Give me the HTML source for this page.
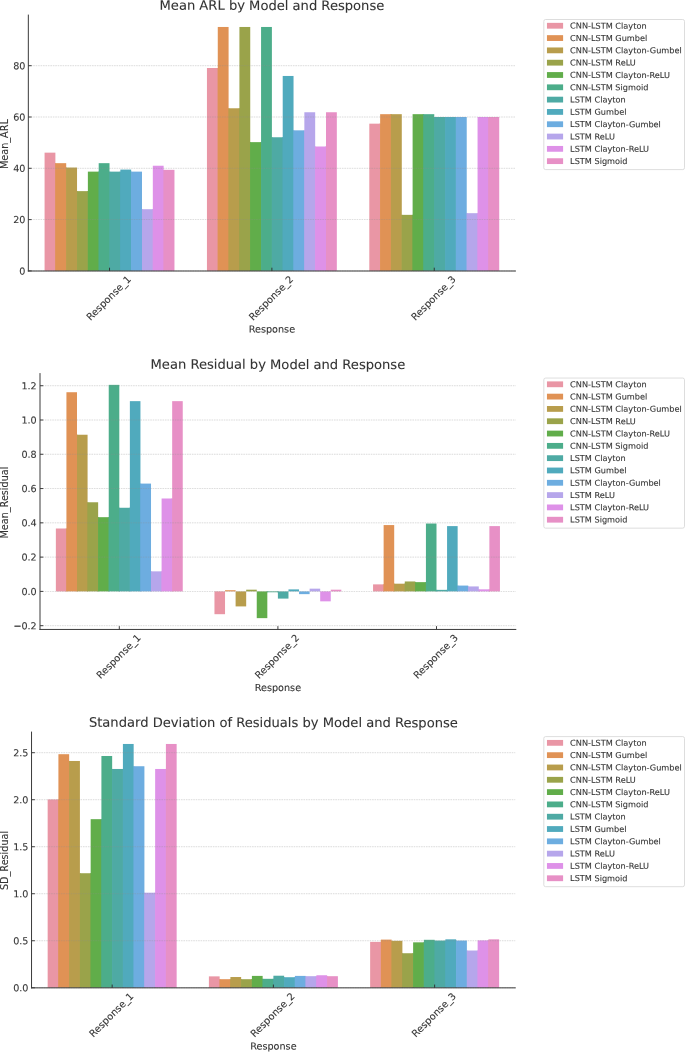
<!DOCTYPE html>
<html lang="en"><head><meta charset="utf-8"><title>Model comparison charts</title>
<style>html,body{margin:0;padding:0;background:#fff}svg{display:block}text{font-family:"DejaVu Sans", "Liberation Sans", sans-serif;fill:#333333;stroke:#333333;stroke-width:0.1px}
.tk{font-size:9.6px}.lb{font-size:9.66px}.tt{font-size:13.1px}.lg{font-size:8.18px}
</style></head><body>
<svg width="685" height="1052" viewBox="0 0 685 1052">
<rect width="685" height="1052" fill="#fff"/>
<g>
<rect x="54.69" y="163.17" width="1.4" height="107.73" fill="#e09255"/>
<rect x="65.52" y="167.53" width="1.4" height="103.37" fill="#b89d4c"/>
<rect x="76.34" y="191.13" width="1.4" height="79.77" fill="#9aa34a"/>
<rect x="87.17" y="191.13" width="1.4" height="79.77" fill="#61ad4a"/>
<rect x="97.99" y="171.63" width="1.4" height="99.27" fill="#4cad8a"/>
<rect x="108.82" y="171.63" width="1.4" height="99.27" fill="#4eaaa4"/>
<rect x="119.64" y="171.63" width="1.4" height="99.27" fill="#50aabd"/>
<rect x="130.47" y="171.63" width="1.4" height="99.27" fill="#6dade0"/>
<rect x="141.29" y="209.21" width="1.4" height="61.69" fill="#b6a6eb"/>
<rect x="152.12" y="209.21" width="1.4" height="61.69" fill="#de91e8"/>
<rect x="162.94" y="169.84" width="1.4" height="101.06" fill="#e790c6"/>
<rect x="44.57" y="152.65" width="10.82" height="118.25" fill="#e996a5"/>
<rect x="55.39" y="163.17" width="10.82" height="107.73" fill="#e09255"/>
<rect x="66.22" y="167.53" width="10.82" height="103.37" fill="#b89d4c"/>
<rect x="77.04" y="191.13" width="10.82" height="79.77" fill="#9aa34a"/>
<rect x="87.87" y="171.63" width="10.82" height="99.27" fill="#61ad4a"/>
<rect x="98.69" y="163.17" width="10.82" height="107.73" fill="#4cad8a"/>
<rect x="109.52" y="171.63" width="10.82" height="99.27" fill="#4eaaa4"/>
<rect x="120.34" y="169.58" width="10.82" height="101.32" fill="#50aabd"/>
<rect x="131.17" y="171.63" width="10.82" height="99.27" fill="#6dade0"/>
<rect x="141.99" y="209.21" width="10.82" height="61.69" fill="#b6a6eb"/>
<rect x="152.82" y="165.73" width="10.82" height="105.16" fill="#de91e8"/>
<rect x="163.64" y="169.84" width="10.82" height="101.06" fill="#e790c6"/>
<rect x="217.07" y="68.01" width="1.4" height="202.89" fill="#e09255"/>
<rect x="227.89" y="108.28" width="1.4" height="162.62" fill="#b89d4c"/>
<rect x="238.72" y="108.28" width="1.4" height="162.62" fill="#9aa34a"/>
<rect x="249.54" y="142.14" width="1.4" height="128.76" fill="#61ad4a"/>
<rect x="260.37" y="142.14" width="1.4" height="128.76" fill="#4cad8a"/>
<rect x="271.19" y="137.26" width="1.4" height="133.64" fill="#4eaaa4"/>
<rect x="282.01" y="137.26" width="1.4" height="133.64" fill="#50aabd"/>
<rect x="292.84" y="130.34" width="1.4" height="140.56" fill="#6dade0"/>
<rect x="303.66" y="130.34" width="1.4" height="140.56" fill="#b6a6eb"/>
<rect x="314.49" y="146.5" width="1.4" height="124.4" fill="#de91e8"/>
<rect x="325.31" y="146.5" width="1.4" height="124.4" fill="#e790c6"/>
<rect x="206.94" y="68.01" width="10.82" height="202.89" fill="#e996a5"/>
<rect x="217.77" y="26.97" width="10.82" height="243.93" fill="#e09255"/>
<rect x="228.59" y="108.28" width="10.82" height="162.62" fill="#b89d4c"/>
<rect x="239.42" y="26.97" width="10.82" height="243.93" fill="#9aa34a"/>
<rect x="250.24" y="142.14" width="10.82" height="128.76" fill="#61ad4a"/>
<rect x="261.07" y="26.97" width="10.82" height="243.93" fill="#4cad8a"/>
<rect x="271.89" y="137.26" width="10.82" height="133.64" fill="#4eaaa4"/>
<rect x="282.71" y="75.96" width="10.82" height="194.94" fill="#50aabd"/>
<rect x="293.54" y="130.34" width="10.82" height="140.56" fill="#6dade0"/>
<rect x="304.36" y="112.25" width="10.82" height="158.65" fill="#b6a6eb"/>
<rect x="315.19" y="146.5" width="10.82" height="124.4" fill="#de91e8"/>
<rect x="326.01" y="112.25" width="10.82" height="158.65" fill="#e790c6"/>
<rect x="379.44" y="123.67" width="1.4" height="147.23" fill="#e09255"/>
<rect x="390.26" y="114.18" width="1.4" height="156.72" fill="#b89d4c"/>
<rect x="401.09" y="214.85" width="1.4" height="56.05" fill="#9aa34a"/>
<rect x="411.91" y="214.85" width="1.4" height="56.05" fill="#61ad4a"/>
<rect x="422.74" y="114.18" width="1.4" height="156.72" fill="#4cad8a"/>
<rect x="433.56" y="117" width="1.4" height="153.9" fill="#4eaaa4"/>
<rect x="444.39" y="117" width="1.4" height="153.9" fill="#50aabd"/>
<rect x="455.21" y="117" width="1.4" height="153.9" fill="#6dade0"/>
<rect x="466.04" y="213.19" width="1.4" height="57.71" fill="#b6a6eb"/>
<rect x="476.86" y="213.19" width="1.4" height="57.71" fill="#de91e8"/>
<rect x="487.69" y="117" width="1.4" height="153.9" fill="#e790c6"/>
<rect x="369.31" y="123.67" width="10.82" height="147.23" fill="#e996a5"/>
<rect x="380.14" y="114.18" width="10.82" height="156.72" fill="#e09255"/>
<rect x="390.96" y="114.18" width="10.82" height="156.72" fill="#b89d4c"/>
<rect x="401.79" y="214.85" width="10.82" height="56.05" fill="#9aa34a"/>
<rect x="412.61" y="114.18" width="10.82" height="156.72" fill="#61ad4a"/>
<rect x="423.44" y="114.18" width="10.82" height="156.72" fill="#4cad8a"/>
<rect x="434.26" y="117" width="10.82" height="153.9" fill="#4eaaa4"/>
<rect x="445.09" y="117" width="10.82" height="153.9" fill="#50aabd"/>
<rect x="455.91" y="117" width="10.82" height="153.9" fill="#6dade0"/>
<rect x="466.74" y="213.19" width="10.82" height="57.71" fill="#b6a6eb"/>
<rect x="477.56" y="117" width="10.82" height="153.9" fill="#de91e8"/>
<rect x="488.39" y="117" width="10.82" height="153.9" fill="#e790c6"/>
<line x1="28.33" y1="270.9" x2="515.45" y2="270.9" stroke="#8c8c8c" stroke-width="0.7" stroke-dasharray="1.6 0.85" opacity="0.44"/>
<line x1="28.33" y1="219.6" x2="515.45" y2="219.6" stroke="#8c8c8c" stroke-width="0.7" stroke-dasharray="1.6 0.85" opacity="0.44"/>
<line x1="28.33" y1="168.3" x2="515.45" y2="168.3" stroke="#8c8c8c" stroke-width="0.7" stroke-dasharray="1.6 0.85" opacity="0.44"/>
<line x1="28.33" y1="117" x2="515.45" y2="117" stroke="#8c8c8c" stroke-width="0.7" stroke-dasharray="1.6 0.85" opacity="0.44"/>
<line x1="28.33" y1="65.7" x2="515.45" y2="65.7" stroke="#8c8c8c" stroke-width="0.7" stroke-dasharray="1.6 0.85" opacity="0.44"/>
<line x1="28.33" y1="270.9" x2="31.63" y2="270.9" stroke="#2a2a2a" stroke-width="0.9"/>
<text class="tk" transform="translate(25.4 274.4) matrix(1 0.001 0 1 0 0)" text-anchor="end">0</text>
<line x1="28.33" y1="219.6" x2="31.63" y2="219.6" stroke="#2a2a2a" stroke-width="0.9"/>
<text class="tk" transform="translate(25.4 223.1) matrix(1 0.001 0 1 0 0)" text-anchor="end">20</text>
<line x1="28.33" y1="168.3" x2="31.63" y2="168.3" stroke="#2a2a2a" stroke-width="0.9"/>
<text class="tk" transform="translate(25.4 171.8) matrix(1 0.001 0 1 0 0)" text-anchor="end">40</text>
<line x1="28.33" y1="117" x2="31.63" y2="117" stroke="#2a2a2a" stroke-width="0.9"/>
<text class="tk" transform="translate(25.4 120.5) matrix(1 0.001 0 1 0 0)" text-anchor="end">60</text>
<line x1="28.33" y1="65.7" x2="31.63" y2="65.7" stroke="#2a2a2a" stroke-width="0.9"/>
<text class="tk" transform="translate(25.4 69.2) matrix(1 0.001 0 1 0 0)" text-anchor="end">80</text>
<line x1="109.52" y1="271" x2="109.52" y2="267.7" stroke="#2a2a2a" stroke-width="0.9"/>
<text class="tk" style="font-size:9.78px" text-anchor="middle" transform="translate(108.92 298.2) rotate(-45)" x="0" y="3.1">Response_1</text>
<line x1="271.89" y1="271" x2="271.89" y2="267.7" stroke="#2a2a2a" stroke-width="0.9"/>
<text class="tk" style="font-size:9.78px" text-anchor="middle" transform="translate(271.29 298.2) rotate(-45)" x="0" y="3.1">Response_2</text>
<line x1="434.26" y1="271" x2="434.26" y2="267.7" stroke="#2a2a2a" stroke-width="0.9"/>
<text class="tk" style="font-size:9.78px" text-anchor="middle" transform="translate(433.66 298.2) rotate(-45)" x="0" y="3.1">Response_3</text>
<line x1="28.33" y1="14.6" x2="28.33" y2="271.5" stroke="#3a3a3a" stroke-width="1"/>
<line x1="27.83" y1="271" x2="515.95" y2="271" stroke="#3a3a3a" stroke-width="1"/>
<text class="tt" transform="translate(271.89 9.9) matrix(1 0.001 0 1 0 0)" text-anchor="middle">Mean ARL by Model and Response</text>
<text class="lb" transform="translate(271.89 332.5) matrix(1 0.001 0 1 0 0)" text-anchor="middle">Response</text>
<text class="lb" text-anchor="middle" transform="translate(8.4 144.1) rotate(-90)">Mean_ARL</text>
<rect x="543.8" y="19.5" width="140.7" height="150.1" rx="1.8" fill="#fff" stroke="#d4d4d4" stroke-width="0.8"/>
<rect x="546.95" y="22.85" width="16.15" height="5.8" fill="#e996a5"/>
<text class="lg" transform="translate(570.1 28.6) matrix(1 0.001 0 1 0 0)">CNN-LSTM Clayton</text>
<rect x="546.95" y="35.16" width="16.15" height="5.8" fill="#e09255"/>
<text class="lg" transform="translate(570.1 40.91) matrix(1 0.001 0 1 0 0)">CNN-LSTM Gumbel</text>
<rect x="546.95" y="47.47" width="16.15" height="5.8" fill="#b89d4c"/>
<text class="lg" transform="translate(570.1 53.22) matrix(1 0.001 0 1 0 0)">CNN-LSTM Clayton-Gumbel</text>
<rect x="546.95" y="59.78" width="16.15" height="5.8" fill="#9aa34a"/>
<text class="lg" transform="translate(570.1 65.53) matrix(1 0.001 0 1 0 0)">CNN-LSTM ReLU</text>
<rect x="546.95" y="72.09" width="16.15" height="5.8" fill="#61ad4a"/>
<text class="lg" transform="translate(570.1 77.84) matrix(1 0.001 0 1 0 0)">CNN-LSTM Clayton-ReLU</text>
<rect x="546.95" y="84.4" width="16.15" height="5.8" fill="#4cad8a"/>
<text class="lg" transform="translate(570.1 90.15) matrix(1 0.001 0 1 0 0)">CNN-LSTM Sigmoid</text>
<rect x="546.95" y="96.71" width="16.15" height="5.8" fill="#4eaaa4"/>
<text class="lg" transform="translate(570.1 102.46) matrix(1 0.001 0 1 0 0)">LSTM Clayton</text>
<rect x="546.95" y="109.02" width="16.15" height="5.8" fill="#50aabd"/>
<text class="lg" transform="translate(570.1 114.77) matrix(1 0.001 0 1 0 0)">LSTM Gumbel</text>
<rect x="546.95" y="121.33" width="16.15" height="5.8" fill="#6dade0"/>
<text class="lg" transform="translate(570.1 127.08) matrix(1 0.001 0 1 0 0)">LSTM Clayton-Gumbel</text>
<rect x="546.95" y="133.64" width="16.15" height="5.8" fill="#b6a6eb"/>
<text class="lg" transform="translate(570.1 139.39) matrix(1 0.001 0 1 0 0)">LSTM ReLU</text>
<rect x="546.95" y="145.95" width="16.15" height="5.8" fill="#de91e8"/>
<text class="lg" transform="translate(570.1 151.7) matrix(1 0.001 0 1 0 0)">LSTM Clayton-ReLU</text>
<rect x="546.95" y="158.26" width="16.15" height="5.8" fill="#e790c6"/>
<text class="lg" transform="translate(570.1 164.01) matrix(1 0.001 0 1 0 0)">LSTM Sigmoid</text>
</g>
<g>
<rect x="65.73" y="528.5" width="1.4" height="62.9" fill="#e09255"/>
<rect x="76.31" y="434.74" width="1.4" height="156.66" fill="#b89d4c"/>
<rect x="86.88" y="502.27" width="1.4" height="89.13" fill="#9aa34a"/>
<rect x="97.45" y="517.18" width="1.4" height="74.22" fill="#61ad4a"/>
<rect x="108.03" y="517.18" width="1.4" height="74.22" fill="#4cad8a"/>
<rect x="118.6" y="507.76" width="1.4" height="83.64" fill="#4eaaa4"/>
<rect x="129.17" y="507.76" width="1.4" height="83.64" fill="#50aabd"/>
<rect x="139.75" y="483.59" width="1.4" height="107.81" fill="#6dade0"/>
<rect x="150.32" y="571.35" width="1.4" height="20.05" fill="#b6a6eb"/>
<rect x="160.89" y="571.35" width="1.4" height="20.05" fill="#de91e8"/>
<rect x="171.47" y="498.5" width="1.4" height="92.9" fill="#e790c6"/>
<rect x="55.86" y="528.5" width="10.57" height="62.9" fill="#e996a5"/>
<rect x="66.43" y="392.23" width="10.57" height="199.17" fill="#e09255"/>
<rect x="77.01" y="434.74" width="10.57" height="156.66" fill="#b89d4c"/>
<rect x="87.58" y="502.27" width="10.57" height="89.13" fill="#9aa34a"/>
<rect x="98.15" y="517.18" width="10.57" height="74.22" fill="#61ad4a"/>
<rect x="108.73" y="384.86" width="10.57" height="206.54" fill="#4cad8a"/>
<rect x="119.3" y="507.76" width="10.57" height="83.64" fill="#4eaaa4"/>
<rect x="129.87" y="401.15" width="10.57" height="190.25" fill="#50aabd"/>
<rect x="140.45" y="483.59" width="10.57" height="107.81" fill="#6dade0"/>
<rect x="151.02" y="571.35" width="10.57" height="20.05" fill="#b6a6eb"/>
<rect x="161.59" y="498.5" width="10.57" height="92.9" fill="#de91e8"/>
<rect x="172.17" y="401.15" width="10.57" height="190.25" fill="#e790c6"/>
<rect x="266.63" y="591.4" width="1.4" height="0.86" fill="#4cad8a"/>
<rect x="277.2" y="591.4" width="1.4" height="0.86" fill="#4eaaa4"/>
<rect x="214.46" y="591.4" width="10.57" height="22.8" fill="#e996a5"/>
<rect x="225.03" y="590.2" width="10.57" height="1.2" fill="#e09255"/>
<rect x="235.61" y="591.4" width="10.57" height="15.01" fill="#b89d4c"/>
<rect x="246.18" y="589.69" width="10.57" height="1.71" fill="#9aa34a"/>
<rect x="256.75" y="591.4" width="10.57" height="26.74" fill="#61ad4a"/>
<rect x="267.33" y="591.4" width="10.57" height="0.86" fill="#4cad8a"/>
<rect x="277.9" y="591.4" width="10.57" height="7.2" fill="#4eaaa4"/>
<rect x="288.47" y="589.39" width="10.57" height="2.01" fill="#50aabd"/>
<rect x="299.05" y="591.4" width="10.57" height="2.74" fill="#6dade0"/>
<rect x="309.62" y="588.66" width="10.57" height="2.74" fill="#b6a6eb"/>
<rect x="320.19" y="591.4" width="10.57" height="9.94" fill="#de91e8"/>
<rect x="330.77" y="589.69" width="10.57" height="1.71" fill="#e790c6"/>
<rect x="382.93" y="584.37" width="1.4" height="7.03" fill="#e09255"/>
<rect x="393.51" y="583.69" width="1.4" height="7.71" fill="#b89d4c"/>
<rect x="404.08" y="583.69" width="1.4" height="7.71" fill="#9aa34a"/>
<rect x="414.65" y="582.14" width="1.4" height="9.26" fill="#61ad4a"/>
<rect x="425.23" y="582.14" width="1.4" height="9.26" fill="#4cad8a"/>
<rect x="435.8" y="589.86" width="1.4" height="1.54" fill="#4eaaa4"/>
<rect x="446.37" y="589.86" width="1.4" height="1.54" fill="#50aabd"/>
<rect x="456.95" y="585.57" width="1.4" height="5.83" fill="#6dade0"/>
<rect x="467.52" y="586.43" width="1.4" height="4.97" fill="#b6a6eb"/>
<rect x="478.09" y="589.34" width="1.4" height="2.06" fill="#de91e8"/>
<rect x="488.67" y="589.34" width="1.4" height="2.06" fill="#e790c6"/>
<rect x="373.06" y="584.37" width="10.57" height="7.03" fill="#e996a5"/>
<rect x="383.63" y="525.07" width="10.57" height="66.33" fill="#e09255"/>
<rect x="394.21" y="583.69" width="10.57" height="7.71" fill="#b89d4c"/>
<rect x="404.78" y="581.46" width="10.57" height="9.94" fill="#9aa34a"/>
<rect x="415.35" y="582.14" width="10.57" height="9.26" fill="#61ad4a"/>
<rect x="425.93" y="523.53" width="10.57" height="67.87" fill="#4cad8a"/>
<rect x="436.5" y="589.86" width="10.57" height="1.54" fill="#4eaaa4"/>
<rect x="447.07" y="526.1" width="10.57" height="65.3" fill="#50aabd"/>
<rect x="457.65" y="585.57" width="10.57" height="5.83" fill="#6dade0"/>
<rect x="468.22" y="586.43" width="10.57" height="4.97" fill="#b6a6eb"/>
<rect x="478.79" y="589.34" width="10.57" height="2.06" fill="#de91e8"/>
<rect x="489.37" y="526.1" width="10.57" height="65.3" fill="#e790c6"/>
<line x1="40" y1="625.68" x2="515.8" y2="625.68" stroke="#8c8c8c" stroke-width="0.7" stroke-dasharray="1.6 0.85" opacity="0.44"/>
<line x1="40" y1="591.4" x2="515.8" y2="591.4" stroke="#8c8c8c" stroke-width="0.7" stroke-dasharray="1.6 0.85" opacity="0.44"/>
<line x1="40" y1="557.12" x2="515.8" y2="557.12" stroke="#8c8c8c" stroke-width="0.7" stroke-dasharray="1.6 0.85" opacity="0.44"/>
<line x1="40" y1="522.84" x2="515.8" y2="522.84" stroke="#8c8c8c" stroke-width="0.7" stroke-dasharray="1.6 0.85" opacity="0.44"/>
<line x1="40" y1="488.56" x2="515.8" y2="488.56" stroke="#8c8c8c" stroke-width="0.7" stroke-dasharray="1.6 0.85" opacity="0.44"/>
<line x1="40" y1="454.28" x2="515.8" y2="454.28" stroke="#8c8c8c" stroke-width="0.7" stroke-dasharray="1.6 0.85" opacity="0.44"/>
<line x1="40" y1="420" x2="515.8" y2="420" stroke="#8c8c8c" stroke-width="0.7" stroke-dasharray="1.6 0.85" opacity="0.44"/>
<line x1="40" y1="385.72" x2="515.8" y2="385.72" stroke="#8c8c8c" stroke-width="0.7" stroke-dasharray="1.6 0.85" opacity="0.44"/>
<line x1="40" y1="625.68" x2="43.3" y2="625.68" stroke="#2a2a2a" stroke-width="0.9"/>
<text class="tk" transform="translate(36.7 629.18) matrix(1 0.001 0 1 0 0)" text-anchor="end">−0.2</text>
<line x1="40" y1="591.4" x2="43.3" y2="591.4" stroke="#2a2a2a" stroke-width="0.9"/>
<text class="tk" transform="translate(36.7 594.9) matrix(1 0.001 0 1 0 0)" text-anchor="end">0.0</text>
<line x1="40" y1="557.12" x2="43.3" y2="557.12" stroke="#2a2a2a" stroke-width="0.9"/>
<text class="tk" transform="translate(36.7 560.62) matrix(1 0.001 0 1 0 0)" text-anchor="end">0.2</text>
<line x1="40" y1="522.84" x2="43.3" y2="522.84" stroke="#2a2a2a" stroke-width="0.9"/>
<text class="tk" transform="translate(36.7 526.34) matrix(1 0.001 0 1 0 0)" text-anchor="end">0.4</text>
<line x1="40" y1="488.56" x2="43.3" y2="488.56" stroke="#2a2a2a" stroke-width="0.9"/>
<text class="tk" transform="translate(36.7 492.06) matrix(1 0.001 0 1 0 0)" text-anchor="end">0.6</text>
<line x1="40" y1="454.28" x2="43.3" y2="454.28" stroke="#2a2a2a" stroke-width="0.9"/>
<text class="tk" transform="translate(36.7 457.78) matrix(1 0.001 0 1 0 0)" text-anchor="end">0.8</text>
<line x1="40" y1="420" x2="43.3" y2="420" stroke="#2a2a2a" stroke-width="0.9"/>
<text class="tk" transform="translate(36.7 423.5) matrix(1 0.001 0 1 0 0)" text-anchor="end">1.0</text>
<line x1="40" y1="385.72" x2="43.3" y2="385.72" stroke="#2a2a2a" stroke-width="0.9"/>
<text class="tk" transform="translate(36.7 389.22) matrix(1 0.001 0 1 0 0)" text-anchor="end">1.2</text>
<line x1="119.3" y1="629.45" x2="119.3" y2="626.15" stroke="#2a2a2a" stroke-width="0.9"/>
<text class="tk" style="font-size:9.78px" text-anchor="middle" transform="translate(118.7 656.65) rotate(-45)" x="0" y="3.1">Response_1</text>
<line x1="277.9" y1="629.45" x2="277.9" y2="626.15" stroke="#2a2a2a" stroke-width="0.9"/>
<text class="tk" style="font-size:9.78px" text-anchor="middle" transform="translate(277.3 656.65) rotate(-45)" x="0" y="3.1">Response_2</text>
<line x1="436.5" y1="629.45" x2="436.5" y2="626.15" stroke="#2a2a2a" stroke-width="0.9"/>
<text class="tk" style="font-size:9.78px" text-anchor="middle" transform="translate(435.9 656.65) rotate(-45)" x="0" y="3.1">Response_3</text>
<line x1="40" y1="373.1" x2="40" y2="629.95" stroke="#3a3a3a" stroke-width="1"/>
<line x1="39.5" y1="629.45" x2="516.3" y2="629.45" stroke="#3a3a3a" stroke-width="1"/>
<text class="tt" transform="translate(277.9 368.9) matrix(1 0.001 0 1 0 0)" text-anchor="middle">Mean Residual by Model and Response</text>
<text class="lb" transform="translate(277.9 690.9) matrix(1 0.001 0 1 0 0)" text-anchor="middle">Response</text>
<text class="lb" text-anchor="middle" transform="translate(8.4 502.58) rotate(-90)">Mean_Residual</text>
<rect x="543.8" y="378.05" width="140.7" height="150.1" rx="1.8" fill="#fff" stroke="#d4d4d4" stroke-width="0.8"/>
<rect x="546.95" y="381.4" width="16.15" height="5.8" fill="#e996a5"/>
<text class="lg" transform="translate(570.1 387.15) matrix(1 0.001 0 1 0 0)">CNN-LSTM Clayton</text>
<rect x="546.95" y="393.71" width="16.15" height="5.8" fill="#e09255"/>
<text class="lg" transform="translate(570.1 399.46) matrix(1 0.001 0 1 0 0)">CNN-LSTM Gumbel</text>
<rect x="546.95" y="406.02" width="16.15" height="5.8" fill="#b89d4c"/>
<text class="lg" transform="translate(570.1 411.77) matrix(1 0.001 0 1 0 0)">CNN-LSTM Clayton-Gumbel</text>
<rect x="546.95" y="418.33" width="16.15" height="5.8" fill="#9aa34a"/>
<text class="lg" transform="translate(570.1 424.08) matrix(1 0.001 0 1 0 0)">CNN-LSTM ReLU</text>
<rect x="546.95" y="430.64" width="16.15" height="5.8" fill="#61ad4a"/>
<text class="lg" transform="translate(570.1 436.39) matrix(1 0.001 0 1 0 0)">CNN-LSTM Clayton-ReLU</text>
<rect x="546.95" y="442.95" width="16.15" height="5.8" fill="#4cad8a"/>
<text class="lg" transform="translate(570.1 448.7) matrix(1 0.001 0 1 0 0)">CNN-LSTM Sigmoid</text>
<rect x="546.95" y="455.26" width="16.15" height="5.8" fill="#4eaaa4"/>
<text class="lg" transform="translate(570.1 461.01) matrix(1 0.001 0 1 0 0)">LSTM Clayton</text>
<rect x="546.95" y="467.57" width="16.15" height="5.8" fill="#50aabd"/>
<text class="lg" transform="translate(570.1 473.32) matrix(1 0.001 0 1 0 0)">LSTM Gumbel</text>
<rect x="546.95" y="479.88" width="16.15" height="5.8" fill="#6dade0"/>
<text class="lg" transform="translate(570.1 485.63) matrix(1 0.001 0 1 0 0)">LSTM Clayton-Gumbel</text>
<rect x="546.95" y="492.19" width="16.15" height="5.8" fill="#b6a6eb"/>
<text class="lg" transform="translate(570.1 497.94) matrix(1 0.001 0 1 0 0)">LSTM ReLU</text>
<rect x="546.95" y="504.5" width="16.15" height="5.8" fill="#de91e8"/>
<text class="lg" transform="translate(570.1 510.25) matrix(1 0.001 0 1 0 0)">LSTM Clayton-ReLU</text>
<rect x="546.95" y="516.81" width="16.15" height="5.8" fill="#e790c6"/>
<text class="lg" transform="translate(570.1 522.56) matrix(1 0.001 0 1 0 0)">LSTM Sigmoid</text>
</g>
<g>
<rect x="57.71" y="799.43" width="1.4" height="188.32" fill="#e09255"/>
<rect x="68.46" y="760.97" width="1.4" height="226.78" fill="#b89d4c"/>
<rect x="79.21" y="873.23" width="1.4" height="114.52" fill="#9aa34a"/>
<rect x="89.96" y="873.23" width="1.4" height="114.52" fill="#61ad4a"/>
<rect x="100.71" y="819.17" width="1.4" height="168.58" fill="#4cad8a"/>
<rect x="111.46" y="768.97" width="1.4" height="218.78" fill="#4eaaa4"/>
<rect x="122.21" y="768.97" width="1.4" height="218.78" fill="#50aabd"/>
<rect x="132.96" y="766.24" width="1.4" height="221.51" fill="#6dade0"/>
<rect x="143.71" y="892.7" width="1.4" height="95.05" fill="#b6a6eb"/>
<rect x="154.45" y="892.7" width="1.4" height="95.05" fill="#de91e8"/>
<rect x="165.2" y="768.97" width="1.4" height="218.78" fill="#e790c6"/>
<rect x="47.66" y="799.43" width="10.75" height="188.32" fill="#e996a5"/>
<rect x="58.41" y="754.2" width="10.75" height="233.55" fill="#e09255"/>
<rect x="69.16" y="760.97" width="10.75" height="226.78" fill="#b89d4c"/>
<rect x="79.91" y="873.23" width="10.75" height="114.52" fill="#9aa34a"/>
<rect x="90.66" y="819.17" width="10.75" height="168.58" fill="#61ad4a"/>
<rect x="101.41" y="755.99" width="10.75" height="231.76" fill="#4cad8a"/>
<rect x="112.16" y="768.97" width="10.75" height="218.78" fill="#4eaaa4"/>
<rect x="122.91" y="743.96" width="10.75" height="243.79" fill="#50aabd"/>
<rect x="133.66" y="766.24" width="10.75" height="221.51" fill="#6dade0"/>
<rect x="144.41" y="892.7" width="10.75" height="95.05" fill="#b6a6eb"/>
<rect x="155.15" y="768.97" width="10.75" height="218.78" fill="#de91e8"/>
<rect x="165.9" y="743.96" width="10.75" height="243.79" fill="#e790c6"/>
<rect x="218.95" y="979.19" width="1.4" height="8.56" fill="#e09255"/>
<rect x="229.7" y="979.19" width="1.4" height="8.56" fill="#b89d4c"/>
<rect x="240.45" y="979.19" width="1.4" height="8.56" fill="#9aa34a"/>
<rect x="251.2" y="979.19" width="1.4" height="8.56" fill="#61ad4a"/>
<rect x="261.95" y="978.82" width="1.4" height="8.93" fill="#4cad8a"/>
<rect x="272.69" y="978.82" width="1.4" height="8.93" fill="#4eaaa4"/>
<rect x="283.44" y="977.22" width="1.4" height="10.53" fill="#50aabd"/>
<rect x="294.19" y="977.22" width="1.4" height="10.53" fill="#6dade0"/>
<rect x="304.94" y="976.19" width="1.4" height="11.56" fill="#b6a6eb"/>
<rect x="315.69" y="976.19" width="1.4" height="11.56" fill="#de91e8"/>
<rect x="326.44" y="976.19" width="1.4" height="11.56" fill="#e790c6"/>
<rect x="208.9" y="976.37" width="10.75" height="11.38" fill="#e996a5"/>
<rect x="219.65" y="979.19" width="10.75" height="8.56" fill="#e09255"/>
<rect x="230.4" y="977.03" width="10.75" height="10.72" fill="#b89d4c"/>
<rect x="241.15" y="979.19" width="10.75" height="8.56" fill="#9aa34a"/>
<rect x="251.9" y="975.9" width="10.75" height="11.85" fill="#61ad4a"/>
<rect x="262.65" y="978.82" width="10.75" height="8.93" fill="#4cad8a"/>
<rect x="273.39" y="975.72" width="10.75" height="12.03" fill="#4eaaa4"/>
<rect x="284.14" y="977.22" width="10.75" height="10.53" fill="#50aabd"/>
<rect x="294.89" y="975.9" width="10.75" height="11.85" fill="#6dade0"/>
<rect x="305.64" y="976.19" width="10.75" height="11.56" fill="#b6a6eb"/>
<rect x="316.39" y="975.25" width="10.75" height="12.5" fill="#de91e8"/>
<rect x="327.14" y="976.19" width="10.75" height="11.56" fill="#e790c6"/>
<rect x="380.19" y="941.87" width="1.4" height="45.88" fill="#e09255"/>
<rect x="390.94" y="940.83" width="1.4" height="46.92" fill="#b89d4c"/>
<rect x="401.68" y="953.24" width="1.4" height="34.51" fill="#9aa34a"/>
<rect x="412.43" y="953.24" width="1.4" height="34.51" fill="#61ad4a"/>
<rect x="423.18" y="942.34" width="1.4" height="45.41" fill="#4cad8a"/>
<rect x="433.93" y="940.55" width="1.4" height="47.2" fill="#4eaaa4"/>
<rect x="444.68" y="940.55" width="1.4" height="47.2" fill="#50aabd"/>
<rect x="455.43" y="940.55" width="1.4" height="47.2" fill="#6dade0"/>
<rect x="466.18" y="950.52" width="1.4" height="37.23" fill="#b6a6eb"/>
<rect x="476.93" y="950.52" width="1.4" height="37.23" fill="#de91e8"/>
<rect x="487.68" y="940.36" width="1.4" height="47.39" fill="#e790c6"/>
<rect x="370.14" y="941.87" width="10.75" height="45.88" fill="#e996a5"/>
<rect x="380.89" y="939.61" width="10.75" height="48.14" fill="#e09255"/>
<rect x="391.64" y="940.83" width="10.75" height="46.92" fill="#b89d4c"/>
<rect x="402.38" y="953.24" width="10.75" height="34.51" fill="#9aa34a"/>
<rect x="413.13" y="942.34" width="10.75" height="45.41" fill="#61ad4a"/>
<rect x="423.88" y="939.8" width="10.75" height="47.95" fill="#4cad8a"/>
<rect x="434.63" y="940.55" width="10.75" height="47.2" fill="#4eaaa4"/>
<rect x="445.38" y="939.33" width="10.75" height="48.42" fill="#50aabd"/>
<rect x="456.13" y="940.55" width="10.75" height="47.2" fill="#6dade0"/>
<rect x="466.88" y="950.52" width="10.75" height="37.23" fill="#b6a6eb"/>
<rect x="477.63" y="940.36" width="10.75" height="47.39" fill="#de91e8"/>
<rect x="488.38" y="939.33" width="10.75" height="48.42" fill="#e790c6"/>
<line x1="31.54" y1="987.75" x2="515.25" y2="987.75" stroke="#8c8c8c" stroke-width="0.7" stroke-dasharray="1.6 0.85" opacity="0.44"/>
<line x1="31.54" y1="940.74" x2="515.25" y2="940.74" stroke="#8c8c8c" stroke-width="0.7" stroke-dasharray="1.6 0.85" opacity="0.44"/>
<line x1="31.54" y1="893.73" x2="515.25" y2="893.73" stroke="#8c8c8c" stroke-width="0.7" stroke-dasharray="1.6 0.85" opacity="0.44"/>
<line x1="31.54" y1="846.72" x2="515.25" y2="846.72" stroke="#8c8c8c" stroke-width="0.7" stroke-dasharray="1.6 0.85" opacity="0.44"/>
<line x1="31.54" y1="799.71" x2="515.25" y2="799.71" stroke="#8c8c8c" stroke-width="0.7" stroke-dasharray="1.6 0.85" opacity="0.44"/>
<line x1="31.54" y1="752.7" x2="515.25" y2="752.7" stroke="#8c8c8c" stroke-width="0.7" stroke-dasharray="1.6 0.85" opacity="0.44"/>
<line x1="31.54" y1="987.75" x2="34.84" y2="987.75" stroke="#2a2a2a" stroke-width="0.9"/>
<text class="tk" transform="translate(28.4 991.25) matrix(1 0.001 0 1 0 0)" text-anchor="end">0.0</text>
<line x1="31.54" y1="940.74" x2="34.84" y2="940.74" stroke="#2a2a2a" stroke-width="0.9"/>
<text class="tk" transform="translate(28.4 944.24) matrix(1 0.001 0 1 0 0)" text-anchor="end">0.5</text>
<line x1="31.54" y1="893.73" x2="34.84" y2="893.73" stroke="#2a2a2a" stroke-width="0.9"/>
<text class="tk" transform="translate(28.4 897.23) matrix(1 0.001 0 1 0 0)" text-anchor="end">1.0</text>
<line x1="31.54" y1="846.72" x2="34.84" y2="846.72" stroke="#2a2a2a" stroke-width="0.9"/>
<text class="tk" transform="translate(28.4 850.22) matrix(1 0.001 0 1 0 0)" text-anchor="end">1.5</text>
<line x1="31.54" y1="799.71" x2="34.84" y2="799.71" stroke="#2a2a2a" stroke-width="0.9"/>
<text class="tk" transform="translate(28.4 803.21) matrix(1 0.001 0 1 0 0)" text-anchor="end">2.0</text>
<line x1="31.54" y1="752.7" x2="34.84" y2="752.7" stroke="#2a2a2a" stroke-width="0.9"/>
<text class="tk" transform="translate(28.4 756.2) matrix(1 0.001 0 1 0 0)" text-anchor="end">2.5</text>
<line x1="112.16" y1="987.85" x2="112.16" y2="984.55" stroke="#2a2a2a" stroke-width="0.9"/>
<text class="tk" style="font-size:9.78px" text-anchor="middle" transform="translate(111.56 1015.05) rotate(-45)" x="0" y="3.1">Response_1</text>
<line x1="273.39" y1="987.85" x2="273.39" y2="984.55" stroke="#2a2a2a" stroke-width="0.9"/>
<text class="tk" style="font-size:9.78px" text-anchor="middle" transform="translate(272.79 1015.05) rotate(-45)" x="0" y="3.1">Response_2</text>
<line x1="434.63" y1="987.85" x2="434.63" y2="984.55" stroke="#2a2a2a" stroke-width="0.9"/>
<text class="tk" style="font-size:9.78px" text-anchor="middle" transform="translate(434.03 1015.05) rotate(-45)" x="0" y="3.1">Response_3</text>
<line x1="31.54" y1="731.6" x2="31.54" y2="988.35" stroke="#3a3a3a" stroke-width="1"/>
<line x1="31.04" y1="987.85" x2="515.75" y2="987.85" stroke="#3a3a3a" stroke-width="1"/>
<text class="tt" transform="translate(273.39 727) matrix(1 0.001 0 1 0 0)" text-anchor="middle">Standard Deviation of Residuals by Model and Response</text>
<text class="lb" transform="translate(273.39 1049.6) matrix(1 0.001 0 1 0 0)" text-anchor="middle">Response</text>
<text class="lb" text-anchor="middle" transform="translate(8.4 860.43) rotate(-90)">SD_Residual</text>
<rect x="543.8" y="736.6" width="140.7" height="150.1" rx="1.8" fill="#fff" stroke="#d4d4d4" stroke-width="0.8"/>
<rect x="546.95" y="739.95" width="16.15" height="5.8" fill="#e996a5"/>
<text class="lg" transform="translate(570.1 745.7) matrix(1 0.001 0 1 0 0)">CNN-LSTM Clayton</text>
<rect x="546.95" y="752.26" width="16.15" height="5.8" fill="#e09255"/>
<text class="lg" transform="translate(570.1 758.01) matrix(1 0.001 0 1 0 0)">CNN-LSTM Gumbel</text>
<rect x="546.95" y="764.57" width="16.15" height="5.8" fill="#b89d4c"/>
<text class="lg" transform="translate(570.1 770.32) matrix(1 0.001 0 1 0 0)">CNN-LSTM Clayton-Gumbel</text>
<rect x="546.95" y="776.88" width="16.15" height="5.8" fill="#9aa34a"/>
<text class="lg" transform="translate(570.1 782.63) matrix(1 0.001 0 1 0 0)">CNN-LSTM ReLU</text>
<rect x="546.95" y="789.19" width="16.15" height="5.8" fill="#61ad4a"/>
<text class="lg" transform="translate(570.1 794.94) matrix(1 0.001 0 1 0 0)">CNN-LSTM Clayton-ReLU</text>
<rect x="546.95" y="801.5" width="16.15" height="5.8" fill="#4cad8a"/>
<text class="lg" transform="translate(570.1 807.25) matrix(1 0.001 0 1 0 0)">CNN-LSTM Sigmoid</text>
<rect x="546.95" y="813.81" width="16.15" height="5.8" fill="#4eaaa4"/>
<text class="lg" transform="translate(570.1 819.56) matrix(1 0.001 0 1 0 0)">LSTM Clayton</text>
<rect x="546.95" y="826.12" width="16.15" height="5.8" fill="#50aabd"/>
<text class="lg" transform="translate(570.1 831.87) matrix(1 0.001 0 1 0 0)">LSTM Gumbel</text>
<rect x="546.95" y="838.43" width="16.15" height="5.8" fill="#6dade0"/>
<text class="lg" transform="translate(570.1 844.18) matrix(1 0.001 0 1 0 0)">LSTM Clayton-Gumbel</text>
<rect x="546.95" y="850.74" width="16.15" height="5.8" fill="#b6a6eb"/>
<text class="lg" transform="translate(570.1 856.49) matrix(1 0.001 0 1 0 0)">LSTM ReLU</text>
<rect x="546.95" y="863.05" width="16.15" height="5.8" fill="#de91e8"/>
<text class="lg" transform="translate(570.1 868.8) matrix(1 0.001 0 1 0 0)">LSTM Clayton-ReLU</text>
<rect x="546.95" y="875.36" width="16.15" height="5.8" fill="#e790c6"/>
<text class="lg" transform="translate(570.1 881.11) matrix(1 0.001 0 1 0 0)">LSTM Sigmoid</text>
</g>
</svg></body></html>
